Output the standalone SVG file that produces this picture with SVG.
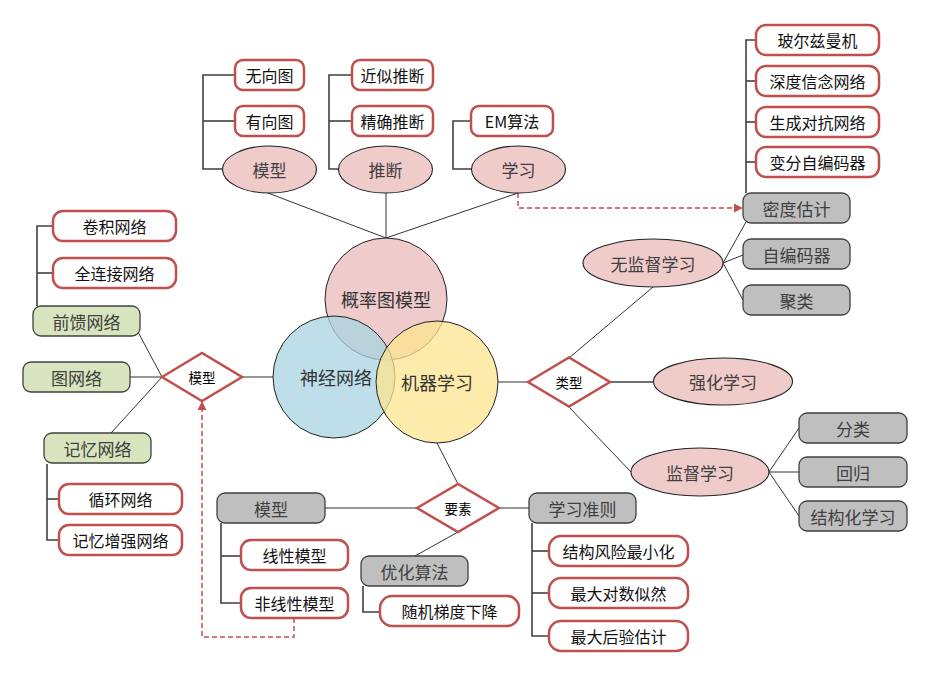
<svg xmlns="http://www.w3.org/2000/svg" width="925" height="693" viewBox="0 0 925 693">
<style>
text{font-family:"Noto Sans CJK SC","Liberation Sans",sans-serif;text-anchor:middle;dominant-baseline:central}
.w{fill:#fff;stroke:#c0504d;stroke-width:2.5}
.g{fill:#bfbfbf;stroke:#404040;stroke-width:1.3}
.gr{fill:#d7e4bd;stroke:#404040;stroke-width:1.3}
.e{fill:#efcbca;stroke:#222;stroke-width:1.1}
.d{fill:#fff;stroke:#c0504d;stroke-width:2.5}
.t16{font-size:16px;fill:#111}
.t17{font-size:17px;fill:#404040}
.t14{font-size:13.5px;fill:#000}
.t18{font-size:18px;fill:#333}
.ln{stroke:#333;stroke-width:1;fill:none}
.br{stroke:#404040;stroke-width:1.6;fill:none}
.ds{stroke:#c0504d;stroke-width:1.5;fill:none;stroke-dasharray:5 3}
</style>
<defs>
<marker id="ar" viewBox="0 0 10 10" refX="9" refY="5" markerWidth="9" markerHeight="9" markerUnits="userSpaceOnUse" orient="auto">
<path d="M0,0 L10,5 L0,10 z" fill="#c0504d"/>
</marker>
</defs>

<g id="connectors">
<line class="ln" x1="268" y1="193" x2="386" y2="238"/>
<line class="ln" x1="386" y1="193" x2="386" y2="238"/>
<line class="ln" x1="518" y1="193" x2="386" y2="238"/>
<polyline class="br" points="235,75 203,75 203,169 222,169"/>
<line class="br" x1="203" y1="121" x2="235" y2="121"/>
<polyline class="br" points="352,75 329,75 329,169 338,169"/>
<line class="br" x1="329" y1="121" x2="352" y2="121"/>
<polyline class="br" points="471,121 453,121 453,169 472,169"/>
<polyline class="br" points="756,40 746,40 746,193"/>
<line class="br" x1="746" y1="81" x2="756" y2="81"/>
<line class="br" x1="746" y1="122" x2="756" y2="122"/>
<line class="br" x1="746" y1="162" x2="756" y2="162"/>
<line class="ln" x1="723" y1="263" x2="746" y2="222"/>
<line class="ln" x1="723" y1="263" x2="743" y2="255"/>
<line class="ln" x1="723" y1="263" x2="743" y2="300"/>
<line class="ln" x1="653" y1="287" x2="569" y2="358"/>
<line class="ln" x1="498" y1="382" x2="528" y2="382"/>
<line class="br" x1="610" y1="382" x2="653" y2="382"/>
<line class="ln" x1="569" y1="407" x2="631" y2="472"/>
<line class="ln" x1="769" y1="472" x2="799" y2="428"/>
<line class="ln" x1="769" y1="472" x2="799" y2="472"/>
<line class="ln" x1="769" y1="472" x2="799" y2="516"/>
<polyline class="br" points="532,523 532,636 549,636"/>
<line class="br" x1="532" y1="551" x2="549" y2="551"/>
<line class="br" x1="532" y1="593" x2="549" y2="593"/>
<line class="ln" x1="325" y1="508" x2="417" y2="508"/>
<line class="ln" x1="499" y1="508" x2="529" y2="508"/>
<line class="ln" x1="458" y1="484" x2="437" y2="443"/>
<line class="ln" x1="458" y1="532" x2="415" y2="556"/>
<polyline class="br" points="363,586 363,612 380,612"/>
<polyline class="br" points="221,523 221,603 241,603"/>
<line class="br" x1="221" y1="556" x2="241" y2="556"/>
<polyline class="br" points="53,226 37,226 37,306"/>
<line class="br" x1="37" y1="273" x2="53" y2="273"/>
<line class="ln" x1="162" y1="377" x2="138" y2="332"/>
<line class="ln" x1="162" y1="377" x2="130" y2="377"/>
<line class="ln" x1="162" y1="377" x2="111" y2="433"/>
<line class="ln" x1="242" y1="377" x2="273" y2="377"/>
<polyline class="br" points="47,464 47,540 59,540"/>
<line class="br" x1="47" y1="499" x2="59" y2="499"/>
<polyline class="ds" points="518,193 518,208 742,208" marker-end="url(#ar)"/>
<polyline class="ds" points="294,618 294,637 202,637 202,402" marker-end="url(#ar)"/>
</g>

<g id="circles">
<circle cx="386" cy="299" r="61" fill="#efcbcb" stroke="#222" stroke-width="1"/>
<circle cx="334" cy="377" r="61" fill="#a8d4e1" fill-opacity="0.75" stroke="#222" stroke-width="1"/>
<circle cx="437" cy="382" r="61" fill="#fce48f" fill-opacity="0.75" stroke="#222" stroke-width="1"/>
<text class="t18" x="386" y="299">概率图模型</text>
<text class="t18" x="336" y="377">神经网络</text>
<text class="t18" x="437" y="382">机器学习</text>
</g>

<g id="pgm-model"><ellipse class="e" cx="269.5" cy="169.5" rx="47" ry="23.5"/><text class="t17" x="269.5" y="169.5">模型</text></g>
<g id="pgm-infer"><ellipse class="e" cx="385.5" cy="169.5" rx="47" ry="23.5"/><text class="t17" x="385.5" y="169.5">推断</text></g>
<g id="pgm-learn"><ellipse class="e" cx="518.5" cy="169.5" rx="47" ry="23.5"/><text class="t17" x="518.5" y="169.5">学习</text></g>
<g id="undirected"><rect class="w" x="235" y="60" width="69" height="30" rx="8"/><text class="t16" x="269.5" y="75">无向图</text></g>
<g id="directed"><rect class="w" x="235" y="106" width="69" height="30" rx="8"/><text class="t16" x="269.5" y="121">有向图</text></g>
<g id="approx"><rect class="w" x="352" y="60" width="81" height="30" rx="8"/><text class="t16" x="392.5" y="75">近似推断</text></g>
<g id="exact"><rect class="w" x="352" y="106" width="81" height="30" rx="8"/><text class="t16" x="392.5" y="121">精确推断</text></g>
<g id="em"><rect class="w" x="471" y="106" width="82" height="30" rx="8"/><text class="t16" x="512" y="121">EM算法</text></g>

<g id="boltzmann"><rect class="w" x="756" y="25" width="123" height="30" rx="10"/><text class="t16" x="817.5" y="40">玻尔兹曼机</text></g>
<g id="dbn"><rect class="w" x="756" y="66" width="123" height="30" rx="10"/><text class="t16" x="817.5" y="81">深度信念网络</text></g>
<g id="gan"><rect class="w" x="756" y="107" width="123" height="30" rx="10"/><text class="t16" x="817.5" y="122">生成对抗网络</text></g>
<g id="vae"><rect class="w" x="756" y="147" width="123" height="30" rx="10"/><text class="t16" x="817.5" y="162">变分自编码器</text></g>
<g id="density"><rect class="g" x="743" y="193" width="107" height="30" rx="8"/><text class="t17" x="796.5" y="208">密度估计</text></g>
<g id="autoenc"><rect class="g" x="743" y="239" width="107" height="30" rx="8"/><text class="t17" x="796.5" y="254">自编码器</text></g>
<g id="cluster"><rect class="g" x="743" y="285" width="107" height="30" rx="8"/><text class="t17" x="796.5" y="300">聚类</text></g>
<g id="unsup"><ellipse class="e" cx="653" cy="263" rx="70" ry="24"/><text class="t17" x="653" y="263">无监督学习</text></g>
<g id="type"><polygon class="d" points="528,382 569,357.5 610,382 569,406.5"/><text class="t14" x="569" y="382">类型</text></g>
<g id="rl"><ellipse class="e" cx="723" cy="381.5" rx="69.5" ry="23.5"/><text class="t17" x="723" y="381.5">强化学习</text></g>
<g id="sup"><ellipse class="e" cx="700" cy="472" rx="69" ry="24"/><text class="t17" x="700" y="472">监督学习</text></g>
<g id="classify"><rect class="g" x="799" y="413" width="108" height="30" rx="8"/><text class="t17" x="853" y="428">分类</text></g>
<g id="regress"><rect class="g" x="799" y="457" width="108" height="30" rx="8"/><text class="t17" x="853" y="472">回归</text></g>
<g id="structured"><rect class="g" x="799" y="501" width="108" height="30" rx="8"/><text class="t17" x="853" y="516">结构化学习</text></g>

<g id="criterion"><rect class="g" x="529" y="493" width="107" height="30" rx="8"/><text class="t17" x="582.5" y="508">学习准则</text></g>
<g id="srm"><rect class="w" x="549" y="536" width="139" height="30" rx="12"/><text class="t16" x="618.5" y="551">结构风险最小化</text></g>
<g id="mle"><rect class="w" x="549" y="578" width="139" height="30" rx="12"/><text class="t16" x="618.5" y="593">最大对数似然</text></g>
<g id="map"><rect class="w" x="549" y="621" width="139" height="30" rx="12"/><text class="t16" x="618.5" y="636">最大后验估计</text></g>
<g id="elements"><polygon class="d" points="417,508 458,484 499,508 458,532"/><text class="t14" x="458" y="508">要素</text></g>
<g id="ml-model"><rect class="g" x="217" y="493" width="108" height="30" rx="8"/><text class="t17" x="271" y="508">模型</text></g>
<g id="linear"><rect class="w" x="241" y="540" width="107" height="30" rx="10"/><text class="t16" x="294.5" y="555">线性模型</text></g>
<g id="nonlinear"><rect class="w" x="241" y="588" width="107" height="30" rx="10"/><text class="t16" x="294.5" y="603">非线性模型</text></g>
<g id="optim"><rect class="g" x="361" y="556" width="107" height="30" rx="8"/><text class="t17" x="414.5" y="571">优化算法</text></g>
<g id="sgd"><rect class="w" x="380" y="596" width="139" height="30" rx="12"/><text class="t16" x="449.5" y="611">随机梯度下降</text></g>

<g id="cnn"><rect class="w" x="53" y="211" width="123" height="30" rx="10"/><text class="t16" x="114.5" y="226">卷积网络</text></g>
<g id="fc"><rect class="w" x="53" y="258" width="123" height="30" rx="10"/><text class="t16" x="114.5" y="273">全连接网络</text></g>
<g id="ffn"><rect class="gr" x="33" y="306" width="107" height="30" rx="8"/><text class="t17" x="86.5" y="321">前馈网络</text></g>
<g id="gnn"><rect class="gr" x="23" y="362" width="107" height="30" rx="8"/><text class="t17" x="76.5" y="377">图网络</text></g>
<g id="memnet"><rect class="gr" x="44" y="433" width="107" height="30" rx="8"/><text class="t17" x="97.5" y="448">记忆网络</text></g>
<g id="rnn"><rect class="w" x="59" y="484" width="123" height="30" rx="10"/><text class="t16" x="120.5" y="499">循环网络</text></g>
<g id="mann"><rect class="w" x="59" y="525" width="123" height="30" rx="10"/><text class="t16" x="120.5" y="540">记忆增强网络</text></g>
<g id="nn-model"><polygon class="d" points="162,377 202,353 242,377 202,401"/><text class="t14" x="202" y="377">模型</text></g>
</svg>
